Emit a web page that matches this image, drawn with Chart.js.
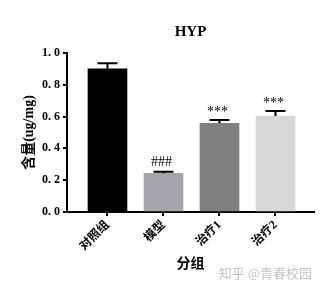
<!DOCTYPE html>
<html>
<head>
<meta charset="utf-8">
<script src="https://cdn.jsdelivr.net/npm/chart.js@4"></script>
<style>
  html, body { margin: 0; padding: 0; background: #fff; }
  #wrap { width: 324px; height: 292px; position: relative; }
</style>
</head>
<body>
<div id="wrap"><canvas id="hypChart"></canvas></div>
<script>
// HYP content per group
const groups = ['对照组', '模型', '治疗1', '治疗2'];
const means = [0.90, 0.243, 0.558, 0.604];
const errors = [0.035, 0.010, 0.021, 0.031];
const marks = ['', '###', '***', '***'];
const barColors = ['#000000', '#a4a4aa', '#808080', '#d8d8d8'];
const yTicks = [0, 0.2, 0.4, 0.6, 0.8, 1.0];

const serif = '"Liberation Serif", "Noto Sans CJK SC", serif';

// error bars (upper only) + significance marks
const errorBarPlugin = {
    id: 'errorBars',
    afterDatasetsDraw(chart) {
        const { ctx, scales: { x, y } } = chart;
        ctx.save();
        ctx.strokeStyle = '#000';
        ctx.lineWidth = 2;
        means.forEach((m, i) => {
            const px = x.getPixelForValue(i);
            const top = y.getPixelForValue(m + errors[i]);
            const base = y.getPixelForValue(m);
            ctx.beginPath();
            ctx.moveTo(px, base);
            ctx.lineTo(px, top);
            ctx.moveTo(px - 10, top);
            ctx.lineTo(px + 10, top);
            ctx.stroke();
            if (marks[i]) {
                ctx.fillStyle = '#000';
                ctx.textAlign = 'center';
                ctx.textBaseline = 'bottom';
                ctx.font = '14px ' + serif;
                ctx.fillText(marks[i], px - 2, marks[i] === '###' ? top - 2 : top - 1);
            }
        });
        ctx.restore();
    }
};

const watermarkPlugin = {
    id: 'watermark',
    afterDraw(chart) {
        const ctx = chart.ctx;
        ctx.save();
        ctx.fillStyle = '#c4c4c4';
        ctx.font = '13px "Noto Sans CJK SC", sans-serif';
        ctx.textAlign = 'right';
        ctx.textBaseline = 'middle';
        ctx.fillText('知乎 @青春校园', 312, 273);
        ctx.restore();
    }
};

new Chart(document.getElementById('hypChart'), {
    type: 'bar',
    data: {
        datasets: [{
            data: means.map((v, i) => ({ x: i, y: v })),
            backgroundColor: barColors,
            borderWidth: 0,
            barThickness: 39
        }]
    },
    options: {
        responsive: true,
        maintainAspectRatio: false,
        animation: false,
        layout: { padding: { left: 0, right: 10, top: 0, bottom: 0 } },
        plugins: {
            legend: { display: false },
            tooltip: { enabled: false },
            title: {
                display: true,
                fullSize: false,
                text: 'HYP',
                color: '#000',
                font: { family: serif, size: 15, weight: 'bold' },
                padding: { top: 23, bottom: 12 }
            }
        },
        scales: {
            x: {
                type: 'linear',
                min: -0.723,
                max: 3.6875,
                offset: false,
                afterBuildTicks: axis => { axis.ticks = groups.map((g, i) => ({ value: i })); },
                afterFit: s => { s.height = 80; },
                ticks: {
                    autoSkip: false,
                    maxRotation: 45,
                    minRotation: 45,
                    padding: 2,
                    color: '#000',
                    font: { family: serif, size: 12, weight: 'bold' },
                    callback: v => groups[v]
                },
                grid: { display: true, drawOnChartArea: false, offset: false, tickLength: 4, color: '#000', lineWidth: 2 },
                border: { display: true, color: '#000', width: 2 },
                title: {
                    display: true,
                    text: '分组',
                    color: '#000',
                    font: { family: serif, size: 14, weight: 'bold' },
                    padding: { bottom: 19 }
                }
            },
            y: {
                min: 0,
                max: 1.0,
                afterBuildTicks: axis => { axis.ticks = yTicks.map(v => ({ value: v })); },
                afterFit: s => { s.width = 67; },
                ticks: {
                    padding: 3,
                    color: '#000',
                    font: { family: serif, size: 12, weight: 'bold' },
                    callback: v => v.toFixed(1).replace('.', '. ')
                },
                grid: { display: true, drawOnChartArea: false, tickLength: 4, color: '#000', lineWidth: 2 },
                border: { display: true, color: '#000', width: 2 },
                title: {
                    display: true,
                    text: '含量(ug/mg)',
                    color: '#000',
                    font: { family: serif, size: 14, weight: 'bold' },
                    padding: { top: 21 }
                }
            }
        }
    },
    plugins: [errorBarPlugin, watermarkPlugin]
});
</script>
</body>
</html>
